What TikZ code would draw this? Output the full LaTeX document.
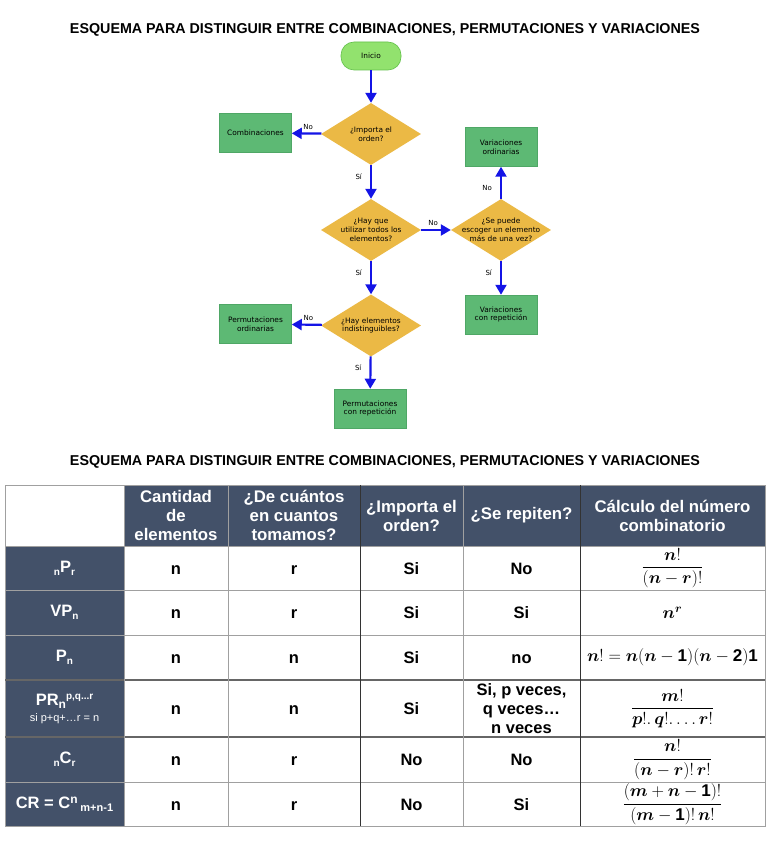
\documentclass[tikz,border=0pt]{standalone}
\usepackage{amsmath,bm}
\usepackage{fontspec}
\setmainfont{Liberation Sans}
\newfontfamily\dejavu{DejaVu Sans}
\usetikzlibrary{shapes.geometric,arrows.meta}
\definecolor{dia}{HTML}{EBB945}
\definecolor{box}{HTML}{5DB974}
\definecolor{boxline}{HTML}{4FA766}
\definecolor{ini}{HTML}{92E26E}
\definecolor{iniline}{HTML}{62C04A}
\definecolor{arr}{HTML}{1414E6}
\definecolor{head}{HTML}{435169}
\definecolor{grid}{HTML}{A0A0A0}
\tikzset{
  fc/.style={font=\dejavu\fontsize{7.4}{8.8}\selectfont, align=center, inner sep=0pt},
  decision/.style={diamond, fill=dia, minimum width=100pt, minimum height=62pt, inner sep=0pt},
  result/.style={fc, rectangle, fill=box, draw=boxline, line width=0.5pt, minimum width=72pt, minimum height=39pt},
  startnode/.style={fc, rectangle, rounded corners=13pt, fill=ini, draw=iniline, line width=0.6pt, minimum width=60pt, minimum height=28pt},
  flow/.style={draw=arr, line width=2.2pt, -{Triangle[length=10pt,width=11pt]}},
  lab/.style={font=\dejavu\fontsize{7}{8}\selectfont, inner sep=0pt},
  title/.style={font=\bfseries\fontsize{14.3}{17}\selectfont, inner sep=0pt},
  hd/.style={font=\bfseries\fontsize{16.8}{19}\selectfont, text=white, align=center, inner sep=0pt},
  fst/.style={font=\bfseries\fontsize{16.5}{19}\selectfont, text=white, align=center, inner sep=0pt},
  cell/.style={font=\bfseries\fontsize{16.5}{19}\selectfont, align=center, inner sep=0pt, anchor=base},
  mth/.style={font=\fontsize{17}{20}\selectfont, inner sep=0pt},
}
\begin{document}
\begin{tikzpicture}[x=1pt,y=-1pt]
\useasboundingbox (0,0) rectangle (768,866);
\fill[white] (0,0) rectangle (768,866);
% titles
\node[title] (t1) at (385,30) {ESQUEMA PARA DISTINGUIR ENTRE COMBINACIONES, PERMUTACIONES Y VARIACIONES};
\node[title] (t2) at (385,462) {ESQUEMA PARA DISTINGUIR ENTRE COMBINACIONES, PERMUTACIONES Y VARIACIONES};
% flowchart
\node[startnode] (inicio) at (371,56) {Inicio};
\node[decision, label={[fc]center:¿Importa el\\orden?}] (d1) at (371,134) {};
\node[result] (comb) at (255.5,133) {Combinaciones};
\node[decision, label={[fc]center:¿Hay que\\utilizar todos los\\elementos?}] (d2) at (371,230) {};
\node[decision, label={[fc]center:¿Se puede\\escoger un elemento\\más de una vez?}] (d3) at (501,230) {};
\node[result] (vord) at (501,147) {Variaciones\\ordinarias};
\node[result] (vrep) at (501,314.5) {Variaciones\\con repetición};
\node[decision, label={[fc]center:¿Hay elementos\\indistinguibles?}] (d4) at (371,325.5) {};
\node[result] (pord) at (255.5,324) {Permutaciones\\ordinarias};
\node[result] (prep) at (370,408.5) {Permutaciones\\con repetición};
\draw[flow] (inicio) -- (d1);
\draw[flow] (d1) -- node[lab, pos=0.45, above=3pt] {No} (comb);
\draw[flow] (d1) -- node[lab, pos=0.35, left=8pt] {Sí} (d2);
\draw[flow] (d2) -- node[lab, pos=0.4, above=3pt] {No} (d3);
\draw[flow] (d3) -- node[lab, pos=0.35, left=8pt] {No} (vord);
\draw[flow] (d3) -- node[lab, pos=0.35, left=8pt] {Sí} (vrep);
\draw[flow] (d2) -- node[lab, pos=0.35, left=8pt] {Sí} (d4);
\draw[flow] (d4) -- node[lab, pos=0.45, above=3pt] {No} (pord);
\draw[flow] (d4) -- node[lab, pos=0.35, left=8pt] {Sí} (prep);
% table fills
\fill[head] (124,485) rectangle (765,546);
\fill[head] (5,546) rectangle (124,826);
% grid
\draw[grid, line width=0.8pt] (5,485) rectangle (765,826);
\foreach \y in {546,590,635,782} \draw[grid, line width=0.8pt] (5,\y) -- (765,\y);
\foreach \y in {680,737} \draw[gray!80!black, line width=1.2pt] (5,\y) -- (765,\y);
\foreach \x in {124,228,463} \draw[grid, line width=0.8pt] (\x,485) -- (\x,826);
\foreach \x in {360,580} \draw[black!80, line width=1pt] (\x,485) -- (\x,826);
\draw[grid, line width=0.8pt] (5,485) -- (124,485) -- (124,546);
% header
\node[hd] (h2) at (176,515.5) {Cantidad\\de\\elementos};
\node[hd] (h3) at (294,515.5) {¿De cuántos\\en cuantos\\tomamos?};
\node[hd] (h4) at (411.5,515.5) {¿Importa el\\orden?};
\node[hd] (h5) at (521.5,515.5) {¿Se repiten?};
\node[hd] (h6) at (672.5,515.5) {Cálculo del número\\combinatorio};
% first column
\node[fst] (r1) at (64.5,568) {\raisebox{-0.35ex}{\fontsize{10}{11}\selectfont n}P\raisebox{-0.35ex}{\fontsize{10}{11}\selectfont r}};
\node[fst] (r2) at (64.5,612.5) {VP\raisebox{-0.35ex}{\fontsize{10}{11}\selectfont n}};
\node[fst] (r3) at (64.5,657.5) {P\raisebox{-0.35ex}{\fontsize{10}{11}\selectfont n}};
\node[fst] (r4) at (64.5,708.5) {PR\raisebox{-0.35ex}{\fontsize{12}{13}\selectfont n}\raisebox{0.6ex}{\fontsize{10}{11}\selectfont p,q...r}\\[-3pt]{\mdseries\fontsize{11}{12}\selectfont si p+q+…r = n}};
\node[fst] (r5) at (64.5,759.5) {\raisebox{-0.35ex}{\fontsize{10}{11}\selectfont n}C\raisebox{-0.35ex}{\fontsize{10}{11}\selectfont r}};
\node[fst] (r6) at (64.5,804) {CR = C\raisebox{0.6ex}{\fontsize{12}{13}\selectfont n}\,\raisebox{-0.35ex}{\fontsize{11}{12}\selectfont m+n-1}};
% body
\foreach \y/\a/\b/\c/\d in {574/n/r/Si/No, 618.5/n/r/Si/Si, 663.5/n/n/Si/no, 714.5/n/n/Si/{}, 765.5/n/r/No/No, 810/n/r/No/Si}{
  \node[cell] at (176,\y) {\a};
  \node[cell] at (294,\y) {\b};
  \node[cell] at (411.5,\y) {\c};
  \node[cell] at (521.5,\y) {\d};
}
\node[cell, anchor=center] (rep) at (521.5,709) {Si, p veces,\\q veces…\\n veces};
\node[mth] (f1) at (672.5,568) {$\dfrac{\bm{n}!}{(\bm{n}-\bm{r})!}$};
\node[mth] (f2) at (672.5,612.5) {$\bm{n}^{\bm{r}}$};
\node[mth] (f3) at (672.5,657.5) {$\bm{n}! = \bm{n}(\bm{n}-\mathbf{1})(\bm{n}-\mathbf{2})\mathbf{1}$};
\node[mth] (f4) at (672.5,708.5) {$\dfrac{\bm{m}!}{\bm{p}!.\,\bm{q}!.\ldots\bm{r}!}$};
\node[mth] (f5) at (672.5,759.5) {$\dfrac{\bm{n}!}{(\bm{n}-\bm{r})!\,\bm{r}!}$};
\node[mth] (f6) at (672.5,804) {$\dfrac{(\bm{m}+\bm{n}-\mathbf{1})!}{(\bm{m}-\mathbf{1})!\,\bm{n}!}$};
\end{tikzpicture}
\end{document}
